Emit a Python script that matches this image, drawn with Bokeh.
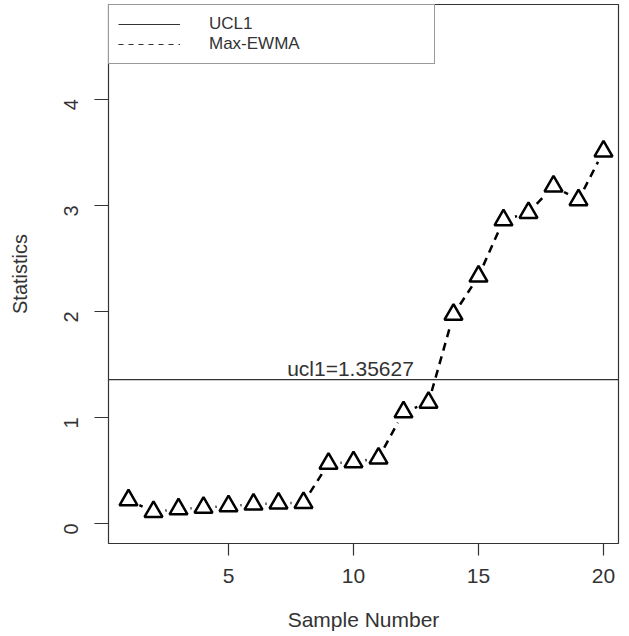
import math
from bokeh.plotting import figure
from bokeh.models import Span, Label, Legend, LegendItem, Range1d, FixedTicker
from bokeh.embed import file_html
from bokeh.resources import INLINE

# ---- data ----
sample = list(range(1, 21))
max_ewma = [0.22, 0.11, 0.135, 0.15, 0.165, 0.18, 0.19, 0.195, 0.565, 0.58,
            0.615, 1.05, 1.14, 1.97, 2.33, 2.86, 2.93, 3.18, 3.05, 3.51]
ucl1 = 1.35627
ucl_label = "ucl1=1.35627"
x_ticks = [5, 10, 15, 20]
y_ticks = [0, 1, 2, 3, 4]
legend_labels = ["UCL1", "Max-EWMA"]
x_title = "Sample Number"
y_title = "Statistics"

# ---- layout ----
W, H = 629, 636
BL, BR, BT, BB = 108, 11, 4, 93
x0, x1 = 0.2, 20.6
y0, y1 = -0.189, 4.893
FONT = "Liberation Sans"
TXT = "#333333"

p = figure(width=W, height=H, output_backend="svg", toolbar_location=None,
           x_range=Range1d(x0, x1), y_range=Range1d(y0, y1),
           min_border_left=BL, min_border_right=BR,
           min_border_top=BT, min_border_bottom=BB)
p.xgrid.visible = False
p.ygrid.visible = False
p.outline_line_color = TXT
p.outline_line_width = 1.2
p.background_fill_color = "white"
p.border_fill_color = "white"

for ax in (p.xaxis[0], p.yaxis[0]):
    ax.axis_line_color = None
    ax.major_tick_line_color = TXT
    ax.major_tick_line_width = 1.2
    ax.minor_tick_line_color = None
    ax.major_tick_in = 0
    ax.major_label_text_font = FONT
    ax.major_label_text_color = TXT
    ax.axis_label_text_font = FONT
    ax.axis_label_text_font_style = "normal"
    ax.axis_label_text_color = TXT

p.xaxis.ticker = FixedTicker(ticks=x_ticks)
p.yaxis.ticker = FixedTicker(ticks=y_ticks)
p.xaxis.major_label_text_font_size = "21px"
p.xaxis.axis_label_text_font_size = "21px"
p.yaxis.major_label_text_font_size = "20px"
p.yaxis.axis_label_text_font_size = "20px"
p.xaxis.major_tick_out = 12
p.xaxis.major_label_standoff = 13
p.xaxis.axis_label = x_title
p.xaxis.axis_label_standoff = 22
p.yaxis.major_tick_out = 14
p.yaxis.major_label_standoff = 23
p.yaxis.axis_label_standoff = 24
p.yaxis.major_label_orientation = math.pi / 2
p.yaxis.axis_label = y_title

# UCL line + label
p.add_layout(Span(location=ucl1, dimension="width", line_color=TXT, line_width=1.2))
p.add_layout(Label(x=10, y=ucl1, text=ucl_label, text_align="center",
                   text_baseline="alphabetic", y_offset=11, x_offset=-3,
                   text_font=FONT, text_font_size="21px", text_color=TXT))

# dashed line with gaps around points (R type = "b")
px_x = (W - BL - BR) / (x1 - x0)
px_y = (H - BT - BB) / (y1 - y0)
gap = 12
sx0, sy0, sx1, sy1 = [], [], [], []
for i in range(len(sample) - 1):
    ddx = sample[i + 1] - sample[i]
    ddy = max_ewma[i + 1] - max_ewma[i]
    L = math.hypot(ddx * px_x, ddy * px_y)
    if L > 2 * gap:
        f = gap / L
        sx0.append(sample[i] + f * ddx)
        sy0.append(max_ewma[i] + f * ddy)
        sx1.append(sample[i + 1] - f * ddx)
        sy1.append(max_ewma[i + 1] - f * ddy)
p.segment(x0=sx0, y0=sy0, x1=sx1, y1=sy1, line_color="black",
          line_width=2.5, line_dash="8 6")

p.scatter(x=sample, y=max_ewma, marker="triangle", size=18,
          fill_color=None, line_color="black", line_width=2.5)

# legend proxies: single-point lines (draw nothing on the plot)
r_ucl = p.line(x=[sample[0]], y=[ucl1], line_color=TXT, line_width=1)
r_ewma = p.line(x=[sample[0]], y=[max_ewma[0]], line_color=TXT,
                line_width=1, line_dash="5 5")
legend = Legend(items=[LegendItem(label=legend_labels[0], renderers=[r_ucl]),
                       LegendItem(label=legend_labels[1], renderers=[r_ewma])],
                location="top_left", margin=0, padding=9, spacing=0,
                glyph_width=62, glyph_height=18, label_height=18,
                label_standoff=29, label_width=216,
                label_text_font=FONT, label_text_font_size="17px",
                label_text_color=TXT, border_line_color=TXT,
                border_line_width=1.2, background_fill_alpha=1.0)
p.add_layout(legend)

open("out.html", "w").write(file_html(p, INLINE))
